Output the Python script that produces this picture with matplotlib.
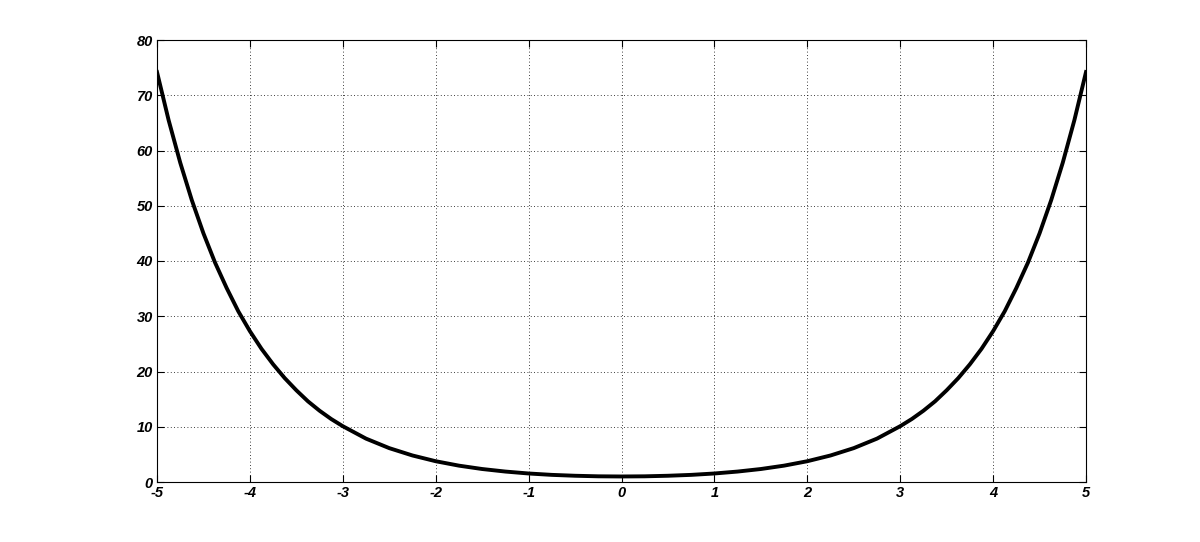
import numpy as np
import matplotlib.pyplot as plt

# values (denser where it is steep)
x_vals = [-5.0, -4.875, -4.75, -4.625, -4.5, -4.375, -4.25, -4.125, -4.0,
          -3.875, -3.75, -3.625, -3.5, -3.375, -3.25, -3.125, -3.0,
          -2.75, -2.5, -2.25, -2.0, -1.75, -1.5, -1.25, -1.0, -0.75, -0.5, -0.25,
          0.0, 0.25, 0.5, 0.75, 1.0, 1.25, 1.5, 1.75, 2.0, 2.25, 2.5, 2.75,
          3.0, 3.125, 3.25, 3.375, 3.5, 3.625, 3.75, 3.875,
          4.0, 4.125, 4.25, 4.375, 4.5, 4.625, 4.75, 4.875, 5.0]
y_vals = [74.2, 65.5, 57.8, 51.0, 45.0, 39.7, 35.1, 30.9, 27.3,
          24.1, 21.3, 18.8, 16.6, 14.6, 12.9, 11.4, 10.1,
          7.85, 6.13, 4.80, 3.76, 2.96, 2.35, 1.89, 1.54, 1.29, 1.13, 1.03,
          1.0, 1.03, 1.13, 1.29, 1.54, 1.89, 2.35, 2.96, 3.76, 4.80, 6.13, 7.85,
          10.1, 11.4, 12.9, 14.6, 16.6, 18.8, 21.3, 24.1,
          27.3, 30.9, 35.1, 39.7, 45.0, 51.0, 57.8, 65.5, 74.2]
x_ticks = [-5, -4, -3, -2, -1, 0, 1, 2, 3, 4, 5]
y_ticks = [0, 10, 20, 30, 40, 50, 60, 70, 80]

plt.rcParams['font.family'] = ['Liberation Sans', 'DejaVu Sans']

fig = plt.figure(figsize=(12, 5.42), dpi=100)
ax = fig.add_axes([157/1200, 1-482/542, (1086-157)/1200, (482-40)/542])
ax.plot(x_vals, y_vals, color='black', linewidth=2.8, solid_joinstyle='round')
ax.set_xlim(-5, 5)
ax.set_ylim(0, 80)
ax.set_xticks(x_ticks)
ax.set_yticks(y_ticks)
ax.set_xticklabels([str(t) for t in x_ticks], fontweight='bold', fontstyle='italic', fontsize=10.5)
ax.set_yticklabels([str(t) for t in y_ticks], fontweight='bold', fontstyle='italic', fontsize=10.5)
ax.tick_params(direction='in', top=True, right=True, length=5, width=0.8, pad=3)
ax.grid(True, linestyle=(0, (1, 3)), color='black', linewidth=0.6)
for s in ax.spines.values():
    s.set_linewidth(0.8)
fig.savefig('out.png', dpi=100)
